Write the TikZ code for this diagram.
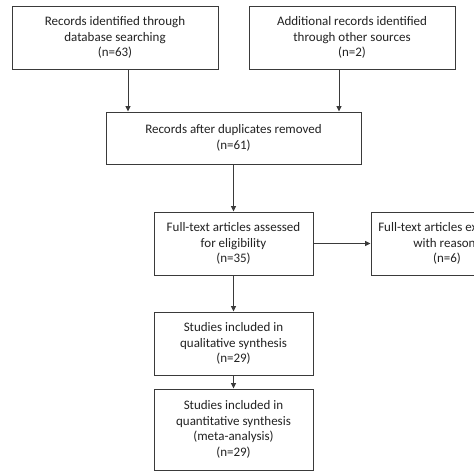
\documentclass[tikz,border=0pt]{standalone}
\usepackage{fontspec}
\setmainfont{Carlito}
\usetikzlibrary{arrows.meta,positioning}
\definecolor{linec}{HTML}{3A3A3A}
\definecolor{textc}{HTML}{222222}
\begin{document}
\begin{tikzpicture}[x=1pt,y=-1pt,
  box/.style={draw=linec,line width=1pt,fill=white,align=center,text=textc,
    inner sep=0pt,font=\fontsize{13}{15.6}\selectfont},
  arr/.style={draw=linec,line width=0.9pt,-{Triangle[length=5.5pt,width=5pt]}}]
\useasboundingbox (0,0) rectangle (474,474);
\clip (0,0) rectangle (474,474);
\fill[white] (0,0) rectangle (474,474);
\node[box,minimum width=206pt,minimum height=63pt] (b1) at (115,37.5)
  {Records identified through\\database searching\\(n=63)};
\node[box,minimum width=206pt,minimum height=63pt] (b2) at (352,37.5)
  {Additional records identified\\through other sources\\(n=2)};
\node[box,minimum width=255pt,minimum height=52pt] (b3) at (233.5,138)
  {Records after duplicates removed\\(n=61)};
\node[box,minimum width=159pt,minimum height=63pt] (b4) at (233.5,243.5)
  {Full-text articles assessed\\for eligibility\\(n=35)};
\node[box,minimum width=152pt,minimum height=63pt] (b5) at (447,243.5)
  {Full-text articles excluded,\\with reasons\\(n=6)};
\node[box,minimum width=159pt,minimum height=63pt] (b6) at (233.5,343.5)
  {Studies included in\\qualitative synthesis\\(n=29)};
\node[box,minimum width=159pt,minimum height=81pt] (b7) at (233.5,429.5)
  {Studies included in\\quantitative synthesis\\(meta-analysis)\\(n=29)};
\draw[arr] ([xshift=13pt]b1.south) -- ([xshift=13pt]b1.south |- b3.north);
\draw[arr] ([xshift=-13pt]b2.south) -- ([xshift=-13pt]b2.south |- b3.north);
\draw[arr] (b3.south) -- (b4.north);
\draw[arr] (b4.east) -- (b5.west);
\draw[arr] (b4.south) -- (b6.north);
\draw[arr] (b6.south) -- (b7.north);
\end{tikzpicture}
\end{document}
